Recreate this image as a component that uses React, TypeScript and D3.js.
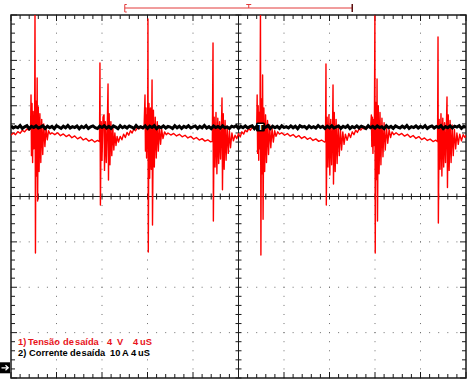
import React from "react";
import * as d3 from "d3";

// ---- Data ----
// Channel 1: output voltage (V) vs time (µs), 4 V/div, 4 µs/div
const redTime: number[] = [
  0, 0.2, 0.4, 0.6, 0.8, 1.0, 1.2, 1.4, 1.6, 1.72,
  1.76, 1.8, 1.85, 1.9, 1.95, 2.01, 2.08, 2.11, 2.15, 2.2, 2.25, 2.3, 2.34, 2.4, 2.47, 2.54, 2.62, 2.7, 2.79, 2.88, 2.98, 3.08, 3.19, 3.3, 3.45,
  3.6, 3.85, 4.1, 4.35, 4.6, 4.85, 5.1, 5.35, 5.6, 5.85, 6.1, 6.35, 6.6, 6.85, 7.1, 7.35, 7.6, 7.78,
  7.82, 7.86, 7.93, 8.0, 8.09, 8.18, 8.22, 8.3, 8.38, 8.46, 8.53, 8.57, 8.63, 8.7, 8.78, 8.86, 8.95, 9.04, 9.13, 9.23, 9.33, 9.45, 9.6, 9.75, 9.9, 10.05, 10.2, 10.35, 10.5, 10.65, 10.8, 10.95, 11.1, 11.25, 11.4, 11.55, 11.7,
  11.78, 11.82, 11.87, 11.92, 11.97, 12.01, 12.04, 12.07, 12.13, 12.19, 12.26, 12.33, 12.4, 12.44, 12.52, 12.6, 12.68, 12.77, 12.86, 12.95, 13.05, 13.15, 13.25, 13.36, 13.5, 13.65,
  13.8, 14.05, 14.3, 14.55, 14.8, 15.05, 15.3, 15.55, 15.8, 16.05, 16.3, 16.55, 16.8, 17.05, 17.3, 17.55, 17.7,
  17.76, 17.79, 17.86, 17.94, 18.02, 18.1, 18.18, 18.26, 18.34, 18.42, 18.5, 18.55, 18.59, 18.66, 18.74, 18.82, 18.91, 19.0, 19.1, 19.2, 19.3, 19.42, 19.55, 19.7, 19.85, 20.0, 20.15, 20.3, 20.45, 20.6, 20.75, 20.9, 21.05, 21.2, 21.35, 21.5, 21.6,
  21.64, 21.68, 21.73, 21.78, 21.83, 21.88, 21.93, 21.97, 22.02, 22.07, 22.12, 22.16, 22.23, 22.3, 22.38, 22.46, 22.55, 22.64, 22.74, 22.84, 22.95, 23.06, 23.18, 23.3, 23.45, 23.6,
  23.8, 24.05, 24.3, 24.55, 24.8, 25.05, 25.3, 25.55, 25.8, 26.05, 26.3, 26.55, 26.8, 27.05, 27.3, 27.55, 27.65,
  27.69, 27.72, 27.79, 27.87, 27.95, 28.03, 28.11, 28.19, 28.27, 28.31, 28.35, 28.42, 28.5, 28.58, 28.67, 28.76, 28.86, 28.96, 29.06, 29.17, 29.28, 29.4, 29.55, 29.7, 29.85, 30.0, 30.15, 30.3, 30.45, 30.6, 30.75, 30.9, 31.05, 31.2, 31.35, 31.5, 31.62,
  31.68, 31.72, 31.77, 31.82, 31.88, 31.94, 31.99, 32.02, 32.08, 32.13, 32.18, 32.22, 32.29, 32.36, 32.44, 32.52, 32.61, 32.7, 32.8, 32.9, 33.01, 33.12, 33.24, 33.37, 33.5, 33.65,
  33.85, 34.1, 34.35, 34.6, 34.85, 35.1, 35.35, 35.6, 35.85, 36.1, 36.35, 36.6, 36.85, 37.1, 37.35, 37.5,
  37.54, 37.57, 37.64, 37.72, 37.8, 37.88, 37.96, 38.04, 38.12, 38.2, 38.28, 38.33, 38.37, 38.44, 38.52, 38.6, 38.69, 38.78, 38.88, 38.98, 39.09, 39.2, 39.32, 39.45, 39.6, 39.75, 39.9, 40.0,
];
const redVolts: number[] = [
  21.4, 21.6, 21.45, 21.72, 21.58, 21.84, 21.7, 21.95, 21.85, 22.0,
  24.95, 19.6, 24.2, 19.0, 23.5, 20.2, 23.0, 32.5, 11.02, 24.4, 17.8, 26.44, 15.6, 23.9, 18.2, 23.3, 19.0, 22.8, 19.7, 22.4, 20.4, 22.0, 21.0, 21.8, 21.5,
  21.62, 21.45, 21.62, 21.36, 21.52, 21.28, 21.44, 21.18, 21.34, 21.08, 21.24, 20.98, 21.12, 20.88, 21.02, 20.8, 20.94, 20.84,
  27.77, 15.25, 22.6, 19.2, 23.0, 23.2, 18.3, 22.6, 19.0, 22.0, 25.92, 17.45, 23.3, 18.8, 22.6, 19.6, 22.1, 20.1, 21.6, 20.5, 21.3, 20.8, 21.3, 21.0, 21.5, 21.2, 21.65, 21.4, 21.8, 21.6, 21.95, 21.8, 22.05, 21.95, 22.1, 22.0, 22.1,
  24.95, 20.0, 23.8, 19.4, 23.2, 20.3, 31.65, 11.11, 24.2, 17.6, 23.8, 18.4, 26.27, 13.49, 23.6, 18.6, 23.0, 19.4, 22.6, 20.0, 22.2, 20.6, 21.9, 21.1, 21.7, 21.45,
  21.6, 21.42, 21.56, 21.34, 21.48, 21.26, 21.4, 21.16, 21.3, 21.06, 21.2, 20.98, 21.1, 20.88, 21.0, 20.82, 20.86,
  29.53, 13.84, 23.0, 18.6, 23.4, 18.0, 22.9, 18.9, 22.6, 19.3, 22.2, 24.68, 16.6, 23.3, 18.4, 22.7, 19.2, 22.2, 19.8, 21.8, 20.3, 21.6, 20.9, 21.4, 21.1, 21.55, 21.25, 21.7, 21.5, 21.85, 21.7, 22.0, 21.85, 22.1, 22.0, 22.15, 22.05,
  24.95, 19.8, 24.0, 19.2, 23.4, 20.2, 32.5, 10.84, 24.6, 18.0, 26.71, 14.0, 23.8, 18.2, 23.2, 19.0, 22.7, 19.7, 22.3, 20.3, 22.0, 20.8, 21.8, 21.3, 21.7, 21.5,
  21.62, 21.4, 21.55, 21.32, 21.46, 21.22, 21.38, 21.12, 21.28, 21.04, 21.18, 20.94, 21.08, 20.86, 20.98, 20.8, 20.86,
  27.68, 15.25, 23.0, 18.6, 23.2, 17.9, 22.8, 18.8, 22.4, 25.83, 17.1, 23.4, 18.2, 22.8, 18.9, 22.3, 19.6, 22.0, 20.1, 21.7, 20.6, 21.5, 20.95, 21.55, 21.2, 21.7, 21.45, 21.85, 21.65, 21.95, 21.85, 22.05, 21.95, 22.1, 22.05, 22.15, 22.1,
  23.18, 20.4, 23.0, 19.8, 22.8, 20.5, 31.91, 11.02, 24.3, 17.5, 26.36, 13.84, 24.0, 18.0, 23.4, 18.8, 22.9, 19.5, 22.5, 20.1, 22.1, 20.7, 21.9, 21.2, 21.7, 21.45,
  21.62, 21.42, 21.56, 21.32, 21.48, 21.22, 21.38, 21.12, 21.28, 21.02, 21.16, 20.94, 21.06, 20.84, 20.96, 20.84,
  30.06, 13.66, 22.8, 18.4, 23.3, 17.8, 22.9, 18.6, 22.5, 19.0, 22.3, 24.77, 16.8, 23.2, 18.3, 22.7, 19.0, 22.3, 19.6, 21.9, 20.2, 21.6, 20.6, 21.5, 20.9, 21.45, 21.2, 21.4,
];

// Channel 2: output current (A), 10 A/div, sampled every 0.2 µs
const blackSampleStep = 0.2;
const blackAmps: number[] = [
  55.55, 55.1, 55.4, 55.15, 55.65, 55.0, 55.35, 55.6, 54.95, 55.45, 55.2, 55.55, 55.1, 55.3, 55.6, 55.0, 55.5, 55.15, 55.45, 54.95,
  55.6, 55.3, 55.0, 55.5, 55.15, 55.65, 55.1, 55.4, 55.2, 55.55, 54.95, 55.45, 55.15, 55.6, 55.0, 55.35, 55.55, 55.15, 55.0, 55.5,
  55.2, 55.6, 55.1, 55.45, 55.0, 55.55, 55.3, 54.95, 55.6, 55.15, 55.45, 55.1, 55.55, 55.3, 55.0, 55.65, 55.15, 55.4, 55.1, 55.55,
  55.0, 55.5, 55.2, 55.6, 54.95, 55.4, 55.15, 55.55, 55.1, 55.45, 55.3, 55.0, 55.6, 55.15, 55.5, 55.0, 55.45, 55.2, 55.6, 55.1,
  55.35, 55.55, 55.0, 55.45, 55.15, 55.65, 55.1, 55.4, 54.95, 55.55, 55.2, 55.45, 55.1, 55.6, 55.15, 55.35, 55.0, 55.5, 55.3, 55.6,
  55.0, 55.45, 55.15, 55.55, 55.1, 55.4, 55.6, 54.95, 55.45, 55.2, 55.55, 55.1, 55.3, 55.65, 55.0, 55.5, 55.15, 55.45, 55.0, 55.6,
  55.2, 55.4, 55.1, 55.55, 55.15, 55.5, 54.95, 55.6, 55.3, 55.45, 55.0, 55.55, 55.15, 55.4, 55.1, 55.65, 55.2, 55.45, 55.0, 55.5,
  55.15, 55.6, 55.1, 55.35, 55.55, 55.0, 55.45, 55.2, 55.6, 54.95, 55.4, 55.15, 55.55, 55.1, 55.5, 55.3, 55.0, 55.6, 55.15, 55.45,
  55.1, 55.55, 55.2, 55.4, 54.95, 55.6, 55.15, 55.45, 55.0, 55.55, 55.3, 55.1, 55.5, 55.15, 55.65, 55.0, 55.4, 55.2, 55.55, 55.1,
  55.45, 55.15, 55.6, 55.0, 55.35, 55.55, 55.1, 55.45, 55.2, 55.6, 54.95, 55.4, 55.15, 55.55, 55.1, 55.5, 55.3, 55.6, 55.0, 55.45,
  55.2,
];

const legendLine1 = ["1)", "Tensão", "de", "saída", "4", "V", "4", "uS"];
const legendLine2 = ["2)", "Corrente", "de", "saída", "10", "A", "4", "uS"];

const timeDomain = [0, 40];
const voltDomain = [0, 32];
const ampDomain = [0, 80];
const windowStart = 10;
const windowEnd = 30;
const windowTrigger = 20.9;
const triggerTime = 21.93;
const triggerLevelA = 55.3;
const groundLevelV = 0.9;

// ---- Layout ----
const W = 474, H = 387;
const L = 11, R = 466, T = 15, B = 378;
const line1X = [18, 28, 63, 75, 107, 117, 133, 140];
const line2X = [18, 29, 70, 81.5, 110, 122, 131, 138];

export default function App() {
  const x = d3.scaleLinear().domain(timeDomain).range([L, R]);
  const yV = d3.scaleLinear().domain(voltDomain).range([B, T]);
  const yA = d3.scaleLinear().domain(ampDomain).range([B, T]);

  const redPts: [number, number][] = redTime.map((t, i) => [t, redVolts[i]]);
  const blkPts: [number, number][] = blackAmps.map((a, i) => [i * blackSampleStep, a]);

  const redLine = d3.line<[number, number]>().x(d => x(d[0])).y(d => yV(d[1]))(redPts) || "";
  const blkLine = d3.line<[number, number]>().x(d => x(d[0])).y(d => yA(d[1]))(blkPts) || "";

  const xMinor = d3.range(0, 51).map(i => i * 0.8);
  const yMinor = d3.range(0, 41).map(i => i * 0.8);
  const xDivs = d3.range(0, 11).map(i => i * 4);
  const yDivs = d3.range(0, 9).map(i => i * 4);

  const cx = x(20);
  const cy = yV(16);

  const dots: JSX.Element[] = [];
  xDivs.forEach((t, i) => {
    if (i === 0 || i === 10 || i === 5) return;
    yMinor.forEach((v, j) => {
      dots.push(<rect key={`dv${i}-${j}`} x={x(t) - 0.5} y={yV(v) - 0.5} width={1} height={1} fill="#6e6e6e" />);
    });
  });
  yDivs.forEach((v, i) => {
    if (i === 0 || i === 8 || i === 4) return;
    xMinor.forEach((t, j) => {
      dots.push(<rect key={`dh${i}-${j}`} x={x(t) - 0.5} y={yV(v) - 0.5} width={1} height={1} fill="#6e6e6e" />);
    });
  });

  const ticks: JSX.Element[] = [];
  xMinor.forEach((t, j) => {
    const major = j % 5 === 0;
    const len = major ? 6 : 4;
    const px = x(t);
    ticks.push(<line key={`tt${j}`} x1={px} x2={px} y1={T} y2={T + len} />);
    ticks.push(<line key={`tb${j}`} x1={px} x2={px} y1={B} y2={B - len} />);
    ticks.push(<line key={`tc${j}`} x1={px} x2={px} y1={cy - 3} y2={cy + 3} />);
  });
  yMinor.forEach((v, j) => {
    const major = j % 5 === 0;
    const len = major ? 6 : 4;
    const py = yV(v);
    ticks.push(<line key={`tl${j}`} x1={L} x2={L + len} y1={py} y2={py} />);
    ticks.push(<line key={`tr${j}`} x1={R} x2={R - len} y1={py} y2={py} />);
    ticks.push(<line key={`tm${j}`} x1={cx - 3} x2={cx + 3} y1={py} y2={py} />);
  });

  const font = "Liberation Sans, Arial, sans-serif";

  const trigX = x(triggerTime);
  const trigY = yA(triggerLevelA);
  const gY = yV(groundLevelV);

  return (
    <svg width={W} height={H} style={{ position: "absolute", left: 0, top: 0, background: "#fff" }}>
      <defs>
        <clipPath id="plot">
          <rect x={L} y={T} width={R - L} height={B - T} />
        </clipPath>
      </defs>
      <rect x={0} y={0} width={W} height={H} fill="#fff" />
      {dots}
      <g stroke="#1a1a1a" strokeWidth={1}>
        {ticks}
        <line x1={cx} x2={cx} y1={T} y2={B} />
        <line x1={L} x2={R} y1={cy} y2={cy} />
      </g>
      <rect x={L} y={T} width={R - L} height={B - T} fill="none" stroke="#1a1a1a" strokeWidth={1.5} />

      <g clipPath="url(#plot)">
        <path d={redLine} fill="none" stroke="#ff0000" strokeWidth={1.4} strokeLinejoin="round" />
        <path d={blkLine} fill="none" stroke="#000" strokeWidth={3} strokeLinejoin="miter" />
      </g>

      {/* trigger marker on trace */}
      <rect x={trigX - 4.5} y={trigY - 4.5} width={9} height={9} rx={1.5} fill="#000" />
      <text x={trigX} y={trigY + 3.2} textAnchor="middle" fill="#fff" fontSize={9} fontWeight="bold" fontFamily={font}>T</text>

      {/* memory window bar */}
      <g stroke="#e23a3a" strokeWidth={1} fill="none">
        <line x1={x(windowStart)} x2={x(windowEnd)} y1={8} y2={8} />
        <path d={`M${x(windowStart) + 2},4.5 H${x(windowStart)} V12 H${x(windowStart) + 2}`} />
        <path d={`M${x(windowTrigger) - 2.5},4.5 H${x(windowTrigger) + 2.5} M${x(windowTrigger)},4.5 V8`} />
      </g>
      <line x1={x(windowEnd)} x2={x(windowEnd)} y1={4} y2={12} stroke="#5a1010" strokeWidth={1.5} />

      {/* ground marker */}
      <rect x={0} y={gY - 5.5} width={10} height={11} fill="#000" />
      <path d={`M1.5,${gY} H8 M5.5,${gY - 2.5} L8.3,${gY} L5.5,${gY + 2.5}`} stroke="#fff" strokeWidth={1.2} fill="none" />

      {/* legend */}
      <g fontSize={9.3} fontWeight="bold" fontFamily={font}>
        {legendLine1.map((w, i) => (
          <text key={`a${i}`} x={line1X[i]} y={345} fill="#e8141b">{w}</text>
        ))}
        {legendLine2.map((w, i) => (
          <text key={`b${i}`} x={line2X[i]} y={356} fill="#000">{w}</text>
        ))}
      </g>
    </svg>
  );
}
